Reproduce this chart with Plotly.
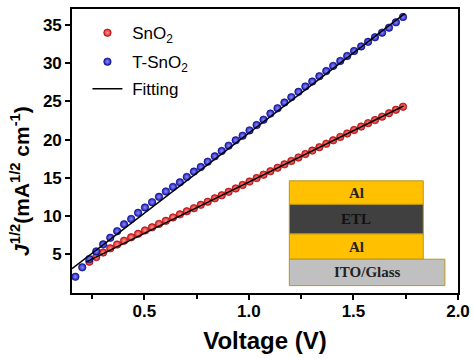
import plotly.graph_objects as go

# ---- data ----
volt_t = [0.170, 0.203, 0.237, 0.270, 0.303, 0.337, 0.370, 0.403, 0.437, 0.470,
          0.503, 0.537, 0.570, 0.603, 0.637, 0.670, 0.703, 0.737, 0.770, 0.803,
          0.837, 0.870, 0.903, 0.937, 0.970, 1.003, 1.037, 1.070, 1.103, 1.137,
          1.170, 1.203, 1.237, 1.270, 1.303, 1.337, 1.370, 1.403, 1.437, 1.470,
          1.503, 1.537, 1.570, 1.603, 1.637, 1.670, 1.703, 1.737]
j_t = [2.03, 3.26, 4.34, 5.35, 6.27, 7.14, 8.0, 8.9, 9.6, 10.4,
       11.1, 11.8, 12.5, 13.2, 13.8, 14.4, 15.1, 15.8, 16.4, 17.1,
       17.8, 18.5, 19.2, 19.9, 20.5, 21.2, 21.9, 22.6, 23.4, 24.1,
       24.85, 25.55, 26.25, 26.95, 27.6, 28.3, 28.97, 29.65, 30.3, 30.95,
       31.6, 32.2, 32.8, 33.4, 34.0, 34.65, 35.35, 36.05]

volt_s = [0.237, 0.270, 0.303, 0.337, 0.370, 0.403, 0.437, 0.470,
          0.503, 0.537, 0.570, 0.603, 0.637, 0.670, 0.703, 0.737, 0.770, 0.803,
          0.837, 0.870, 0.903, 0.937, 0.970, 1.003, 1.037, 1.070, 1.103, 1.137,
          1.170, 1.203, 1.237, 1.270, 1.303, 1.337, 1.370, 1.403, 1.437, 1.470,
          1.503, 1.537, 1.570, 1.603, 1.637, 1.670, 1.703, 1.737]
j_s = [4.0, 4.6, 5.2, 5.75, 6.25, 6.75, 7.2, 7.65,
       8.1, 8.5, 8.95, 9.35, 9.8, 10.2, 10.6, 11.0, 11.45, 11.85,
       12.3, 12.7, 13.15, 13.6, 14.05, 14.5, 14.95, 15.4, 15.85, 16.3,
       16.75, 17.2, 17.65, 18.1, 18.55, 19.0, 19.45, 19.9, 20.35, 20.8,
       21.25, 21.7, 22.15, 22.55, 23.0, 23.45, 23.9, 24.3]

fit_t_x = [0.154, 1.745]
fit_t_y = [3.1, 36.5]
fit_s_x = [0.22, 1.74]
fit_s_y = [3.95, 24.4]

x_ticks = [0.5, 1.0, 1.5, 2.0]
y_ticks = [5, 10, 15, 20, 25, 30, 35]

layers = ["Al", "ETL", "Al", "ITO/Glass"]

FONT = "Liberation Sans, Arial, sans-serif"

fig = go.Figure()

fig.add_trace(go.Scatter(
    x=volt_s, y=j_s, mode="markers", name="&nbsp;SnO<sub>2</sub>", legend="legend",
    marker=dict(size=7.5, color="#d81818", line=dict(width=0.6, color="#9a0000"),
                gradient=dict(type="radial", color="#ff9a9a"))))
fig.add_trace(go.Scatter(
    x=volt_t, y=j_t, mode="markers", name="&nbsp;T-SnO<sub>2</sub>", legend="legend2",
    marker=dict(size=7.5, color="#1a1ab8", line=dict(width=0.6, color="#00006e"),
                gradient=dict(type="radial", color="#8c8cff"))))
fig.add_trace(go.Scatter(
    x=fit_t_x, y=fit_t_y, mode="lines", name="&nbsp;Fitting", legend="legend3",
    line=dict(color="black", width=1.5)))
fig.add_trace(go.Scatter(
    x=fit_s_x, y=fit_s_y, mode="lines", name="Fitting",
    showlegend=False, line=dict(color="black", width=1.5)))

# inset device stack (axis-domain coordinates)
boxes = [
    (0.563, 0.910, 0.312, 0.395, "#FFC000", "#222222"),
    (0.563, 0.910, 0.208, 0.312, "#404040", "#111111"),
    (0.563, 0.910, 0.119, 0.208, "#FFC000", "#222222"),
    (0.563, 0.966, 0.026, 0.119, "#C0C0C0", "#222222"),
]
for (x0, x1, y0, y1, fill, tc), label in zip(boxes, layers):
    fig.add_shape(type="rect", xref="x domain", yref="y domain",
                  x0=x0, x1=x1, y0=y0, y1=y1, fillcolor=fill,
                  line=dict(color="#B8961E", width=1), layer="above")
    fig.add_annotation(xref="x domain", yref="y domain",
                       x=(x0 + x1) / 2, y=(y0 + y1) / 2, text=label,
                       xanchor="center", yanchor="middle",
                       showarrow=False,
                       font=dict(family="Liberation Serif, Times New Roman, serif",
                                 size=15, color=tc, weight="bold"))

axis_common = dict(
    showline=True, linecolor="black", linewidth=1.6, mirror=True,
    ticks="outside", ticklen=5, tickwidth=1.5, tickcolor="black",
    showgrid=False, zeroline=False, automargin=False,
    tickfont=dict(family=FONT, size=17, color="black", weight="bold"),
)

fig.update_xaxes(range=[0.154, 2.0], tickvals=x_ticks,
                 ticktext=[f"{v:.1f}" for v in x_ticks],
                 ticklabelstandoff=-3,
                 minor=dict(ticks="outside", ticklen=4, tickwidth=1.5,
                            tickcolor="black", dtick=0.25, tick0=0.25),
                 title=dict(text="Voltage (V)", standoff=12,
                            font=dict(family=FONT, size=24, color="black", weight="bold")),
                 **axis_common)
fig.update_yaxes(range=[-0.1, 37.1], tickvals=y_ticks, **axis_common)

# y-axis title as rotated annotation
fig.add_annotation(xref="paper", yref="y domain", x=-0.135, y=0.5, yshift=-30,
                   xanchor="center", yanchor="middle", textangle=-90,
                   showarrow=False,
                   text="<i>J</i><sup>1/2</sup>(mA<sup>1/2</sup> cm<sup>-1</sup>)",
                   font=dict(family=FONT, size=21, color="black", weight="bold"))

leg_common = dict(x=0.04, xanchor="left", yanchor="middle",
                  bgcolor="rgba(0,0,0,0)", borderwidth=0,
                  font=dict(family=FONT, size=17, color="black"))

fig.update_layout(
    width=474, height=358,
    margin=dict(l=72, r=16, t=9, b=65),
    plot_bgcolor="white", paper_bgcolor="white",
    legend=dict(y=0.915, **leg_common),
    legend2=dict(y=0.813, **leg_common),
    legend3=dict(y=0.718, **leg_common),
)

fig.write_html("out.html", config={"displayModeBar": False},
               post_script="document.body.style.margin='0px';")
